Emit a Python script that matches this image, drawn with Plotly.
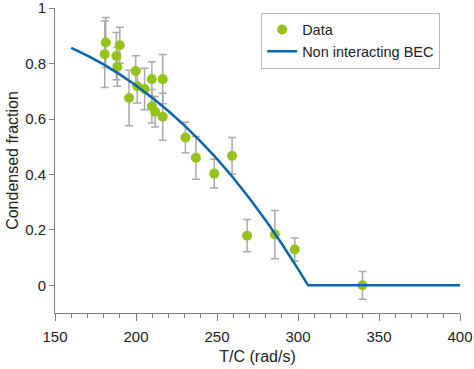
import plotly.graph_objects as go

# Measured data (T/C in rad/s, condensed fraction, error)
data_x = [181.3, 180.7, 190.0, 187.9, 188.5, 195.7, 199.8, 200.8, 205.3, 209.8,
          209.8, 211.8, 216.5, 216.5, 230.5, 237.0, 248.3, 259.3, 268.6, 285.7,
          298.0, 339.8]
data_y = [0.876, 0.834, 0.866, 0.827, 0.788, 0.676, 0.773, 0.718, 0.708, 0.744,
          0.646, 0.626, 0.744, 0.608, 0.533, 0.460, 0.403, 0.467, 0.179, 0.183,
          0.129, 0.0]
data_err = [0.09, 0.12, 0.065, 0.085, 0.07, 0.10, 0.055, 0.06, 0.075, 0.063,
            0.06, 0.055, 0.089, 0.085, 0.055, 0.077, 0.052, 0.066, 0.058, 0.087,
            0.042, 0.05]

# Non interacting BEC curve
bec_x = [160, 170, 180, 190, 200, 210, 220, 230, 240, 250, 260, 270, 280, 290, 300, 306.2, 400]
bec_y = [0.857, 0.829, 0.797, 0.761, 0.721, 0.677, 0.629, 0.576, 0.518, 0.456,
         0.388, 0.314, 0.235, 0.150, 0.059, 0.0, 0.0]

x_ticks = [150, 200, 250, 300, 350, 400]
y_ticks = [0, 0.2, 0.4, 0.6, 0.8, 1]
y_tick_labels = ["0", "0.2", "0.4", "0.6", "0.8", "1"]

FONT = "Liberation Sans, Arial, Helvetica, sans-serif"
GREEN = "#95c31c"
BLUE = "#0a64ae"
GRAY = "#aaaaaa"
AXIS = "#7f7f7f"

fig = go.Figure()
fig.add_trace(go.Scatter(
    x=data_x, y=data_y, mode="markers", name="Data",
    marker=dict(color=GREEN, size=10),
    error_y=dict(type="data", array=data_err, visible=True, color=GRAY,
                 thickness=1.5, width=4),
))
fig.add_trace(go.Scatter(
    x=bec_x, y=bec_y, mode="lines", name="Non interacting BEC",
    line=dict(color=BLUE, width=2.5),
))

fig.update_layout(
    width=474, height=369,
    margin=dict(l=55, r=14, t=8, b=56, autoexpand=False),
    paper_bgcolor="white", plot_bgcolor="white",
    font=dict(family=FONT, size=15, color="#222222"),
    showlegend=True,
    legend=dict(x=0.509, y=0.985, xanchor="left", yanchor="top",
                bordercolor="#bbbbbb", borderwidth=1, bgcolor="white",
                font=dict(size=14.5), tracegroupgap=0),
    xaxis=dict(range=[150, 400], tickvals=x_ticks, ticks="outside", ticklen=7,
               tickcolor=AXIS, showline=True, linecolor=AXIS, linewidth=1,
               showgrid=False, zeroline=False, automargin=False,
               ticklabelstandoff=3, ticklabeloverflow="allow",
               minor=dict(dtick=10, ticks="outside", ticklen=4, tickcolor=AXIS),
               title=dict(text="T/C (rad/s)", font=dict(size=16), standoff=6),
               tickfont=dict(size=15)),
    yaxis=dict(range=[-0.1, 1.0005], tickvals=y_ticks, ticktext=y_tick_labels,
               ticks="outside", ticklen=5, tickcolor=AXIS, showline=True,
               linecolor=AXIS, linewidth=1, showgrid=False, zeroline=False,
               automargin=False, ticklabeloverflow="allow",
               title=dict(text="Condensed fraction", font=dict(size=16), standoff=2),
               tickfont=dict(size=15)),
)

fig.write_html("out.html", config={"displayModeBar": False},
               post_script="document.body.style.margin='0px';")
